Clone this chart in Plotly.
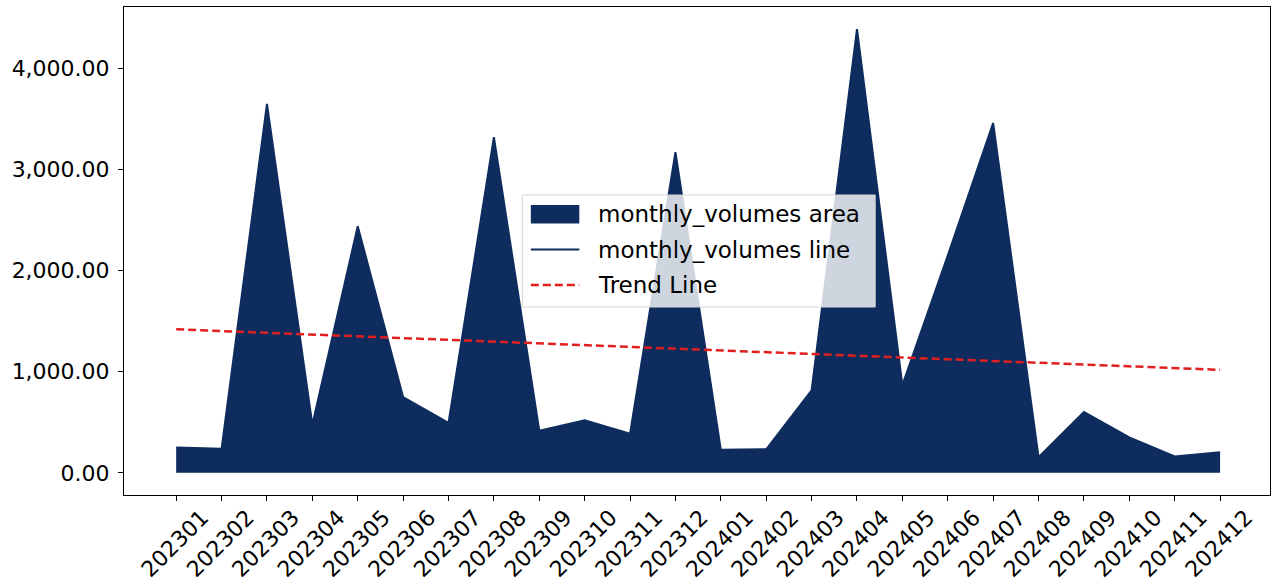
import plotly.graph_objects as go

categories = ["202301", "202302", "202303", "202304", "202305", "202306",
              "202307", "202308", "202309", "202310", "202311", "202312",
              "202401", "202402", "202403", "202404", "202405", "202406",
              "202407", "202408", "202409", "202410", "202411", "202412"]
monthly_volumes = [250, 237, 3649, 476, 2439, 750,
                   493, 3320, 417, 519, 388, 3172,
                   227, 233, 815, 4389, 868, 2150,
                   3461, 154, 601, 351, 161, 203]
trend_x = [categories[0], categories[-1]]
trend_values = [1420, 1019]
y_tickvals = [0, 1000, 2000, 3000, 4000]
legend_labels = ["monthly_volumes area", "monthly_volumes line", "Trend Line"]

NAVY = "#0e2d5e"
RED = "#e0201f"
FONT = "DejaVu Sans"
FS = 22

W, H = 1273, 585
ML, MR, MT, MB = 124, 2.5, 7, 90
PW, PH = W - ML - MR, H - MT - MB


def px(x):
    return (x - ML) / PW


def py(y):
    return (H - MB - y) / PH


fig = go.Figure()
fig.add_trace(go.Scatter(
    x=categories, y=monthly_volumes, mode="none", fill="tozeroy",
    fillcolor=NAVY, name=legend_labels[0], showlegend=False,
))
fig.add_trace(go.Scatter(
    x=categories, y=monthly_volumes, mode="lines",
    line=dict(color=NAVY, width=2), name=legend_labels[1], showlegend=False,
))
fig.add_trace(go.Scatter(
    x=trend_x, y=trend_values, mode="lines",
    line=dict(color=RED, width=2.5, dash="8px,4px"), name=legend_labels[2],
    showlegend=False,
))

# manual legend (matplotlib-like)
shapes = [
    dict(type="rect", xref="paper", yref="paper", layer="above",
         x0=px(522.5), x1=px(875.5), y0=py(307), y1=py(195),
         fillcolor="rgba(255,255,255,0.8)", line=dict(color="#d6d6d6", width=1)),
    dict(type="rect", xref="paper", yref="paper", layer="above",
         x0=px(531), x1=px(579.5), y0=py(223.5), y1=py(205),
         fillcolor=NAVY, line=dict(width=0)),
    dict(type="line", xref="paper", yref="paper", layer="above",
         x0=px(531), x1=px(579.5), y0=py(249.5), y1=py(249.5),
         line=dict(color=NAVY, width=2)),
    dict(type="line", xref="paper", yref="paper", layer="above",
         x0=px(531), x1=px(579.5), y0=py(285), y1=py(285),
         line=dict(color=RED, width=2.5, dash="8px,4px")),
]
annotations = []
for lab, yc in zip(legend_labels, [214, 249.5, 285]):
    annotations.append(dict(
        text=lab, xref="paper", yref="paper", x=px(596), y=py(yc),
        xanchor="left", yanchor="middle", showarrow=False,
        font=dict(family=FONT, size=23, color="black"),
    ))

fig.update_layout(
    width=W, height=H,
    margin=dict(l=ML, r=MR, t=MT, b=MB),
    paper_bgcolor="white", plot_bgcolor="white",
    font=dict(family=FONT, size=FS, color="black"),
    showlegend=False,
    shapes=shapes, annotations=annotations,
    xaxis=dict(
        type="category", range=[-1.15, 24.1], automargin=False,
        showline=True, mirror=True, linecolor="black", linewidth=1,
        ticks="outside", ticklen=5, tickcolor="black", tickangle=-45,
        ticklabelshift=26, ticklabelstandoff=-5,
        showgrid=False, zeroline=False,
        tickfont=dict(family=FONT, size=FS, color="black"),
    ),
    yaxis=dict(
        range=[-219.5, 4608.5], tickvals=y_tickvals, tickformat=",.2f",
        automargin=False, ticklabelstandoff=4,
        showline=True, mirror=True, linecolor="black", linewidth=1,
        ticks="outside", ticklen=5, tickcolor="black",
        showgrid=False, zeroline=False,
        tickfont=dict(family=FONT, size=FS, color="black"),
    ),
)

fig.write_html(
    "out.html",
    config={"displayModeBar": False},
    post_script="document.body.style.margin='0';document.body.style.overflow='hidden';",
)
